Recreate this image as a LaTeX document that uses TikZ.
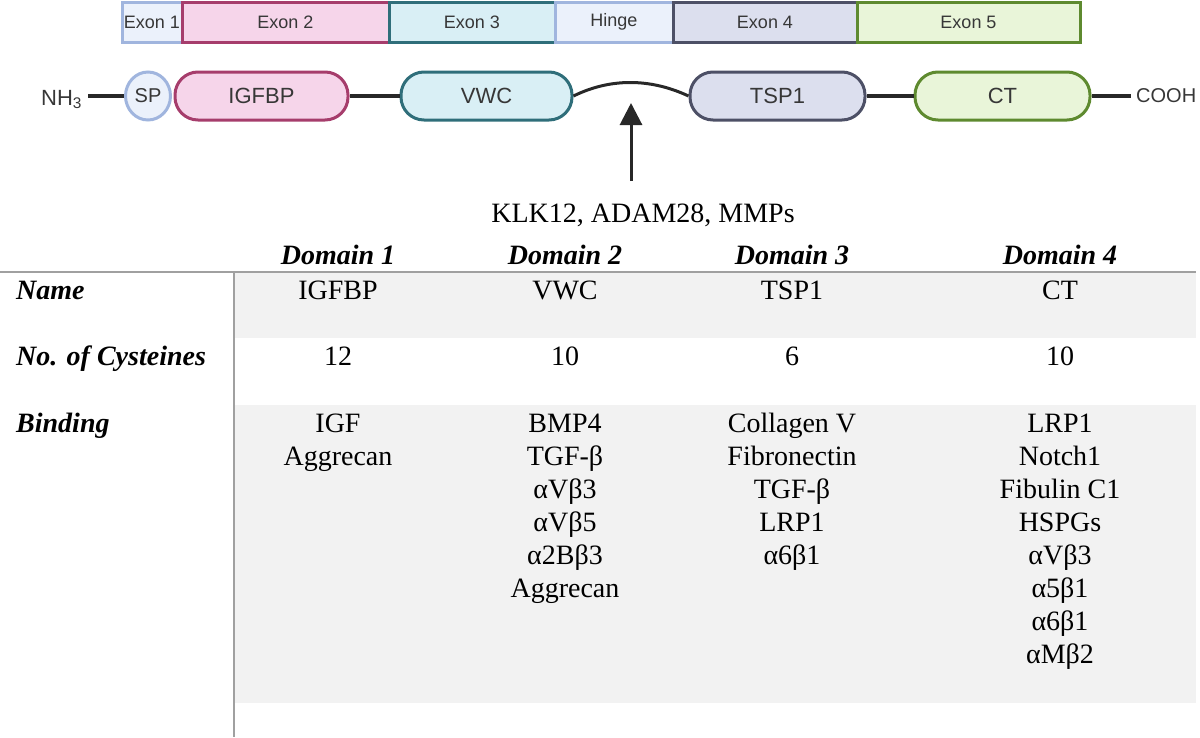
\documentclass[tikz,border=0pt]{standalone}
\usepackage{fontspec}
\setmainfont{Liberation Serif}
\newfontfamily\sansfont{Liberation Sans}
\usetikzlibrary{arrows.meta,shapes.geometric}

\definecolor{bluefill}{RGB}{235,241,251}
\definecolor{blueline}{RGB}{160,181,222}
\definecolor{pinkfill}{RGB}{246,213,234}
\definecolor{pinkline}{RGB}{166,61,108}
\definecolor{tealfill}{RGB}{217,239,245}
\definecolor{tealline}{RGB}{47,110,122}
\definecolor{slatefill}{RGB}{220,223,238}
\definecolor{slateline}{RGB}{77,80,102}
\definecolor{greenfill}{RGB}{233,245,217}
\definecolor{greenline}{RGB}{94,138,47}
\definecolor{labelgray}{RGB}{55,55,55}
\definecolor{chaingray}{RGB}{40,40,40}
\definecolor{rowgray}{RGB}{242,242,242}
\definecolor{rulegray}{RGB}{160,160,160}

\begin{document}
\begin{tikzpicture}[x=1pt, y=-1pt,
    exon/.style={draw, line width=3pt, minimum height=40pt, inner sep=0pt,
        font=\sansfont\fontsize{18}{18}\selectfont, text=labelgray},
    domainbox/.style={draw, line width=3pt, rounded corners=23pt, minimum height=48pt,
        minimum width=174pt, inner sep=0pt,
        font=\sansfont\fontsize{22}{22}\selectfont, text=labelgray},
    chain/.style={line width=3.5pt, draw=chaingray},
    cut/.style={line width=3pt, draw=chaingray, -{Triangle[width=22pt,length=22pt]}},
    cell/.style={anchor=base, inner sep=0pt, align=center,
        font=\fontsize{28}{33}\selectfont},
    head/.style={cell, font=\bfseries\itshape\fontsize{28}{33}\selectfont},
    rowname/.style={head, anchor=base west},
    rule/.style={line width=1.5pt, draw=rulegray}]
    \useasboundingbox (0,0) rectangle (1200,737);

    % exon map
    \node[exon, fill=bluefill, draw=blueline, minimum width=60pt] (ex1) at (152,22) {Exon 1};
    \node[exon, fill=pinkfill, draw=pinkline, minimum width=207pt] (ex2) at (285.5,22) {Exon 2};
    \node[exon, fill=tealfill, draw=tealline, minimum width=166pt] (ex3) at (472,22) {Exon 3};
    \node[exon, fill=bluefill, draw=blueline, minimum width=118pt] (hinge) at (614,22) {Hinge};
    \node[exon, fill=slatefill, draw=slateline, minimum width=184pt] (ex4) at (765,22) {Exon 4};
    \node[exon, fill=greenfill, draw=greenline, minimum width=223pt] (ex5) at (968.5,22) {Exon 5};

    % protein domains
    \node[anchor=base west, inner sep=1pt, text=labelgray,
        font=\sansfont\fontsize{22}{22}\selectfont] (nh3) at (40,105) {NH\textsubscript{3}};
    \node[ellipse, draw=blueline, fill=bluefill, line width=3pt, minimum width=45pt,
        minimum height=48pt, inner sep=0pt, text=labelgray,
        font=\sansfont\fontsize{20}{20}\selectfont] (sp) at (148,96) {SP};
    \node[domainbox, fill=pinkfill, draw=pinkline, minimum width=173pt] (igfbp) at (261.5,96) {IGFBP};
    \node[domainbox, fill=tealfill, draw=tealline, minimum width=171pt] (vwc) at (486.5,96) {VWC};
    \node[domainbox, fill=slatefill, draw=slateline, minimum width=175pt] (tsp1) at (777.5,96) {TSP1};
    \node[domainbox, fill=greenfill, draw=greenline, minimum width=175pt] (ct) at (1002.5,96) {CT};
    \node[anchor=west, inner sep=1pt, text=labelgray,
        font=\sansfont\fontsize{20}{20}\selectfont] (cooh) at (1135,96) {COOH};

    \draw[chain, shorten <=5pt] (nh3.east |- sp.west) -- (sp.west);
    \draw[chain] (igfbp.east) -- (vwc.west);
    \draw[chain, line width=3pt] (vwc.east) .. controls (610,78) and (650,78) .. (tsp1.west);
    \draw[chain] (tsp1.east) -- (ct.west);
    \draw[chain, shorten >=4pt] (ct.east) -- (cooh.west);

    % cleavage
    \coordinate (cleave) at (631,103);
    \node[cell] (enz) at (643,222) {KLK12, ADAM28, MMPs};
    \draw[cut, shorten <=22pt] (enz.north -| cleave) -- (cleave);

    % table
    \fill[rowgray] (234,272) rectangle (1196,338);
    \fill[rowgray] (234,405) rectangle (1196,703);
    \draw[rule] (0,272) -- (1196,272);
    \draw[rule] (234,272) -- (234,737);

    \node[head] (d1) at (338,264) {Domain 1};
    \node[head] (d2) at (565,264) {Domain 2};
    \node[head] (d3) at (792,264) {Domain 3};
    \node[head] (d4) at (1060,264) {Domain 4};

    \node[rowname] (name) at (16,299) {Name};
    \node[rowname] (cys) at (16,365) {No. of Cysteines};
    \node[rowname] (bind) at (16,432) {Binding};

    \node[cell] (n1) at (338,299) {IGFBP};
    \node[cell] (n2) at (565,299) {VWC};
    \node[cell] (n3) at (792,299) {TSP1};
    \node[cell] (n4) at (1060,299) {CT};

    \node[cell] (c1) at (338,365) {12};
    \node[cell] (c2) at (565,365) {10};
    \node[cell] (c3) at (792,365) {6};
    \node[cell] (c4) at (1060,365) {10};

    % base of a list = base of its last line
    \node[cell] (b1) at (338,465) {IGF\\Aggrecan};
    \node[cell] (b2) at (565,597) {BMP4\\TGF-β\\αVβ3\\αVβ5\\α2Bβ3\\Aggrecan};
    \node[cell] (b3) at (792,564) {Collagen V\\Fibronectin\\TGF-β\\LRP1\\α6β1};
    \node[cell] (b4) at (1060,663) {LRP1\\Notch1\\Fibulin C1\\HSPGs\\αVβ3\\α5β1\\α6β1\\αMβ2};
\end{tikzpicture}
\end{document}
